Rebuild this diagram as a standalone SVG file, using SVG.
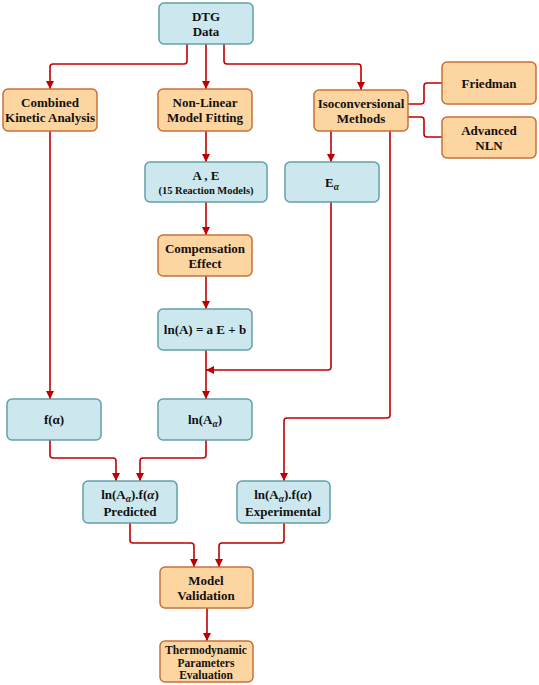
<svg xmlns="http://www.w3.org/2000/svg" width="539" height="685" viewBox="0 0 539 685">
<defs>
<marker id="arr" markerWidth="8" markerHeight="8" viewBox="0 0 8 8" refX="8" refY="4" orient="auto" markerUnits="userSpaceOnUse">
<path d="M0,0 L8,4 L0,8 Z" fill="#C00000"/>
</marker>
<style>
.b rect{fill:#CCE8EE;stroke:#62A0A8;stroke-width:1.5}
.o rect{fill:#FDD5A0;stroke:#C8703A;stroke-width:1.5}
text{font-family:"Times New Roman","Liberation Serif","DejaVu Serif",serif;font-weight:bold;font-size:13px;fill:#111;text-anchor:middle}
.s{font-size:10.5px}
.t{font-size:11.5px}
.c path{fill:none;stroke:#C00000;stroke-width:1.6}
.c path.a{marker-end:url(#arr)}
</style>
</defs>
<rect width="539" height="685" fill="#fff"/>
<g class="c" id="connectors">
<path class="a" d="M187,44 V61 Q187,64 184,64 H53 Q50,64 50,67 V89"/>
<path class="a" d="M206,44 V89"/>
<path class="a" d="M224,44 V61 Q224,64 227,64 H358 Q361,64 361,67 V90"/>
<path d="M408,104 H421 Q424,104 424,101 V86 Q424,83 427,83 H442"/>
<path d="M408,117 H421 Q424,117 424,120 V134 Q424,137 427,137 H442"/>
<path class="a" d="M331,131 V162"/>
<path class="a" d="M390,131 V415 Q390,418 387,418 H287 Q284,418 284,421 V481"/>
<path class="a" d="M331,202 V367 Q331,370 328,370 H206"/>
<path class="a" d="M206,131 V162"/>
<path class="a" d="M206,202 V235"/>
<path class="a" d="M206,276 V309"/>
<path class="a" d="M206,350 V399"/>
<path class="a" d="M50,131 V399"/>
<path class="a" d="M50,440 V455 Q50,458 53,458 H113 Q116,458 116,461 V481"/>
<path class="a" d="M206,440 V455 Q206,458 203,458 H143 Q140,458 140,461 V481"/>
<path class="a" d="M130,523 V540 Q130,543 133,543 H191 Q194,543 194,546 V567"/>
<path class="a" d="M284,523 V540 Q284,543 281,543 H222 Q219,543 219,546 V567"/>
<path class="a" d="M207,608 V641"/>
</g>
<g id="dtg" class="b"><rect x="159" y="3" width="94" height="41" rx="5"/><text x="206" y="21">DTG</text><text x="206" y="36">Data</text></g>
<g id="combined" class="o"><rect x="3" y="89" width="94" height="42" rx="5"/><text x="50" y="107">Combined</text><text x="50" y="122">Kinetic Analysis</text></g>
<g id="nlmf" class="o"><rect x="158" y="89" width="94" height="42" rx="5"/><text x="205" y="107">Non-Linear</text><text x="205" y="122">Model Fitting</text></g>
<g id="iso" class="o"><rect x="314" y="90" width="94" height="41" rx="5"/><text x="361" y="108">Isoconversional</text><text x="361" y="123">Methods</text></g>
<g id="friedman" class="o"><rect x="442" y="62" width="94" height="42" rx="5"/><text x="489" y="88">Friedman</text></g>
<g id="nln" class="o"><rect x="442" y="117" width="94" height="41" rx="5"/><text x="489" y="135">Advanced</text><text x="489" y="150">NLN</text></g>
<g id="ae" class="b"><rect x="145" y="162" width="122" height="40" rx="5"/><text x="206" y="180">A , E</text><text class="s" x="206" y="194">(15 Reaction Models)</text></g>
<g id="ealpha" class="b"><rect x="285" y="162" width="94" height="40" rx="5"/><text x="332" y="187">E<tspan font-size="9.5" font-style="italic" dy="3">α</tspan></text></g>
<g id="comp" class="o"><rect x="158" y="235" width="94" height="41" rx="5"/><text x="205" y="253">Compensation</text><text x="205" y="268">Effect</text></g>
<g id="lnA" class="b"><rect x="158" y="309" width="94" height="41" rx="5"/><text x="205" y="334">ln(A) = a E + b</text></g>
<g id="falpha" class="b"><rect x="7" y="399" width="94" height="41" rx="5"/><text x="54" y="424">f(α)</text></g>
<g id="lnAalpha" class="b"><rect x="158" y="399" width="94" height="41" rx="5"/><text x="205" y="424">ln(A<tspan font-size="9.5" font-style="italic" dy="3">α</tspan><tspan dy="-3">)</tspan></text></g>
<g id="predicted" class="b"><rect x="83" y="481" width="94" height="42" rx="5"/><text x="130" y="499">ln(A<tspan font-size="9.5" font-style="italic" dy="3">α</tspan><tspan dy="-3">).f(</tspan><tspan font-style="italic">α</tspan>)</text><text x="130" y="516">Predicted</text></g>
<g id="experimental" class="b"><rect x="237" y="481" width="93" height="42" rx="5"/><text x="283" y="499">ln(A<tspan font-size="9.5" font-style="italic" dy="3">α</tspan><tspan dy="-3">).f(</tspan><tspan font-style="italic">α</tspan>)</text><text x="283" y="516">Experimental</text></g>
<g id="validation" class="o"><rect x="160" y="567" width="93" height="41" rx="5"/><text x="206" y="585">Model</text><text x="206" y="600">Validation</text></g>
<g id="thermo" class="o"><rect x="160" y="641" width="93" height="41" rx="5"/><text class="t" x="206" y="654">Thermodynamic</text><text class="t" x="206" y="666.5">Parameters</text><text class="t" x="206" y="679">Evaluation</text></g>
</svg>
